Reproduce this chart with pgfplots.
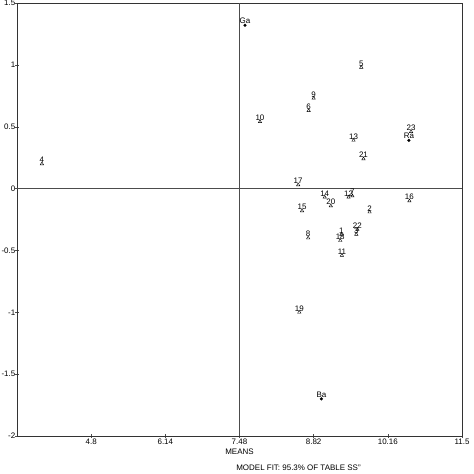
\documentclass[border=0pt]{standalone}
\usepackage{fontspec}
\setmainfont{Liberation Sans}
\usepackage{pgfplots}
\pgfplotsset{compat=1.18}
\usepackage{pgfplotstable}

\pgfplotstableread{
lab x y
1 9.32 -0.37
2 9.83 -0.19
3 9.59 -0.37
4 3.91 0.20
5 9.68 0.98
6 8.73 0.63
7 9.52 -0.06
8 8.72 -0.40
9 8.82 0.73
10 7.85 0.54
11 9.33 -0.54
12 9.45 -0.07
13 9.54 0.39
14 9.02 -0.07
15 8.61 -0.18
16 10.55 -0.10
17 8.54 0.03
18 9.30 -0.42
19 8.56 -1.00
20 9.13 -0.14
21 9.72 0.24
22 9.61 -0.33
23 10.58 0.46
}\rows

\pgfplotstableread{
lab x y
Ga 7.58 1.32
Ra 10.54 0.39
Ba 8.96 -1.70
}\cols

\newcommand{\sz}{\fontsize{8}{8.5}\selectfont}

\begin{document}
\begin{tikzpicture}
\begin{axis}[
  scale only axis,
  width=445bp, height=433bp,
  xmin=3.46, xmax=11.5,
  ymin=-2, ymax=1.5,
  xtick={4.8,6.14,7.48,8.82,10.16,11.5},
  xticklabels={4.8,6.14,7.48,8.82,10.16,11.5},
  ytick={-2,-1.5,-1,-0.5,0,0.5,1,1.5},
  yticklabels={-2,-1.5,-1,-0.5,0,0.5,1,1.5},
  xtick pos=left, ytick pos=left,
  tick align=center,
  major tick length=3bp,
  tick style={black!70, line width=0.4pt},
  axis line style={black!80, line width=0.8pt},
  ticklabel style={font=\sz, inner sep=0.5pt},
  xticklabel style={yshift=-1bp},
  yticklabel style={xshift=0.5bp},
  xlabel={MEANS},
  xlabel style={font=\sz, inner sep=0.5pt, yshift=-3bp},
  clip=false,
]
% reference lines through the means
\addplot[black!70, line width=0.7pt] coordinates {(7.48,-2) (7.48,1.5)};
\addplot[black!70, line width=0.7pt] coordinates {(3.46,0) (11.5,0)};
% row points
\addplot[only marks, mark=triangle, mark size=1.9bp, black, mark options={line width=0.45pt},
  nodes near coords, point meta=explicit symbolic,
  every node near coord/.append style={font=\sz, inner sep=0.3pt, anchor=south, yshift=0.5bp}]
  table[x=x, y=y, meta=lab] {\rows};
% column points
\addplot[only marks, mark=*, mark size=1.4bp, black,
  nodes near coords, point meta=explicit symbolic,
  every node near coord/.append style={font=\sz, inner sep=0.3pt, anchor=south, yshift=0.8bp}]
  table[x=x, y=y, meta=lab] {\cols};
\node[font=\sz, anchor=base west] at (rel axis cs:0.485,-0.08) {MODEL FIT: 95.3\% OF TABLE SS''};
\coordinate (bl) at (rel axis cs:0,0);
\coordinate (tr) at (rel axis cs:1,1);
\end{axis}
\pgfresetboundingbox
\path ([shift={(-17bp,-38bp)}]bl) rectangle ([shift={(12bp,3bp)}]tr);
\end{tikzpicture}
\end{document}
